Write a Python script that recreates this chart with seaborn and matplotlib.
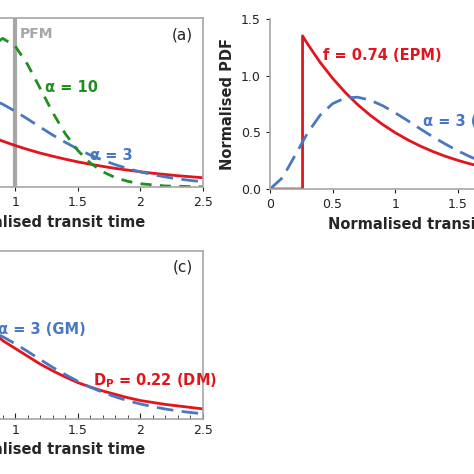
import numpy as np
import pandas as pd
import seaborn as sns
import matplotlib
matplotlib.use("Agg")
import matplotlib.pyplot as plt
from matplotlib.ticker import MultipleLocator

sns.set_style("white")
plt.rcParams['font.family'] = ['DejaVu Sans']

x_grid = [0, .1, .2, .3, .4, .5, .6, .7, .8, .9, 1.0, 1.1, 1.2, 1.3, 1.4, 1.5,
          1.6, 1.7, 1.8, 1.9, 2.0, 2.1, 2.2, 2.3, 2.4, 2.5]
exp_pdf = [1, .905, .819, .741, .670, .607, .549, .497, .449, .407, .368, .333, .301,
           .273, .247, .223, .202, .183, .165, .150, .135, .122, .111, .100, .091, .082]
gm3_pdf = [0, .100, .296, .494, .651, .753, .803, .810, .784, .735, .672, .603, .531,
           .461, .397, .337, .284, .238, .198, .163, .134, .110, .089, .072, .058, .047]
x_gm10 = [0, .3, .4, .5, .6, .7, .8, .9, 1.0, 1.1, 1.2, 1.3, 1.4, 1.5, 1.6, 1.7, 1.8,
          1.9, 2.0, 2.2, 2.5]
gm10_pdf = [0, .027, .132, .363, .689, 1.014, 1.241, 1.319, 1.251, 1.085, .874, .660,
            .473, .324, .213, .135, .083, .050, .029, .009, .0015]
x_epm = [0, .26, .26, .3, .4, .5, .6, .7, .8, .9, 1.0, 1.1, 1.2, 1.3, 1.4, 1.5, 1.6,
         1.8, 2.0, 2.2, 2.5]
epm_pdf = [0, 0, 1.351, 1.280, 1.118, .977, .853, .745, .651, .569, .497, .434, .379,
           .331, .289, .253, .221, .169, .129, .098, .086]
x_dm = [0, .1, .2, .3, .4, .5, .6, .7, .8, .9, 1.0, 1.1, 1.2, 1.3, 1.4, 1.5, 1.6, 1.7,
        1.8, 1.9, 2.0, 2.2, 2.5]
dm_pdf = [0, .002, .177, .572, .855, .964, .956, .89, .80, .70, .63, .56, .49, .43,
          .375, .325, .285, .25, .22, .19, .165, .13, .09]

RED, BLUE, GREEN, GREY = '#e3141c', '#4a78c0', '#1f8f1f', '#a6a6a6'
W = 474.0
fig = plt.figure(figsize=(4.74, 4.74), dpi=100)
ax_a = fig.add_axes([-110 / W, (W - 187) / W, 313 / W, 169 / W])
ax_b = fig.add_axes([270 / W, (W - 189) / W, 313 / W, 170 / W])
ax_c = fig.add_axes([-110 / W, (W - 419) / W, 313 / W, 168 / W])

KW = dict(estimator=None, errorbar=None, sort=False)

def style(ax, minor=False, frame=True):
    ax.set_xlim(0, 2.5)
    ax.set_ylim(0, 1.5)
    ax.set_xticks([0, 0.5, 1, 1.5, 2, 2.5])
    ax.set_xticklabels(['0', '0.5', '1', '1.5', '2', '2.5'])
    ax.set_yticks([0, 0.5, 1.0, 1.5])
    ax.set_yticklabels(['0.0', '0.5', '1.0', '1.5'])
    ax.tick_params(labelsize=9, colors='#222222', length=3, direction='out')
    if minor:
        ax.xaxis.set_minor_locator(MultipleLocator(0.1))
        ax.tick_params(which='minor', length=3, direction='in', bottom=True)
        ax.tick_params(which='major', direction='in', length=4, bottom=True)
    else:
        ax.tick_params(bottom=True, left=True)
    for s in ax.spines.values():
        s.set_color(GREY)
        s.set_linewidth(1.2)
    if not frame:
        ax.spines['top'].set_visible(False)
        ax.spines['right'].set_visible(False)
    ax.set_xlabel('Normalised transit time', fontsize=10.5, fontweight='bold', labelpad=4)
    ax.set_ylabel('Normalised PDF', fontsize=10.5, fontweight='bold')

# (a)
ax_a.axvline(1.0, color=GREY, lw=3)
sns.lineplot(x=x_grid, y=exp_pdf, ax=ax_a, color=RED, lw=2, **KW)
sns.lineplot(x=x_grid, y=gm3_pdf, ax=ax_a, color=BLUE, lw=2, linestyle=(0, (6, 3)), **KW)
sns.lineplot(x=x_gm10, y=gm10_pdf, ax=ax_a, color=GREEN, lw=2, linestyle=(0, (4, 3)), **KW)
style(ax_a)
ax_a.text(1.04, 1.42, 'PFM', color=GREY, fontsize=10, fontweight='bold', va='top')
ax_a.text(2.42, 1.42, '(a)', color='#222222', fontsize=11, ha='right', va='top')
ax_a.text(1.24, 0.88, 'α = 10', color=GREEN, fontsize=10.5, fontweight='bold', va='center')
ax_a.text(1.6, 0.28, 'α = 3', color=BLUE, fontsize=10.5, fontweight='bold', va='center')

# (b)
sns.lineplot(x=x_epm, y=epm_pdf, ax=ax_b, color=RED, lw=2, **KW)
sns.lineplot(x=x_grid, y=gm3_pdf, ax=ax_b, color=BLUE, lw=2, linestyle=(0, (6, 3)), **KW)
style(ax_b, frame=False)
ax_b.text(0.42, 1.18, 'f = 0.74 (EPM)', color=RED, fontsize=10.5, fontweight='bold', va='center')
ax_b.text(1.22, 0.6, 'α = 3 (GM)', color=BLUE, fontsize=10.5, fontweight='bold', va='center')

# (c)
sns.lineplot(x=x_dm, y=dm_pdf, ax=ax_c, color=RED, lw=2, **KW)
sns.lineplot(x=x_grid, y=gm3_pdf, ax=ax_c, color=BLUE, lw=2, linestyle=(0, (6, 3)), **KW)
style(ax_c, minor=True)
ax_c.text(2.42, 1.42, '(c)', color='#222222', fontsize=11, ha='right', va='top')
ax_c.text(0.86, 0.80, 'α = 3 (GM)', color=BLUE, fontsize=10.5, fontweight='bold', va='center')
ax_c.text(1.62, 0.34, r'D$_\mathbf{P}$ = 0.22 (DM)', color=RED, fontsize=10.5, fontweight='bold', va='center')

fig.savefig('out.png', dpi=100)
